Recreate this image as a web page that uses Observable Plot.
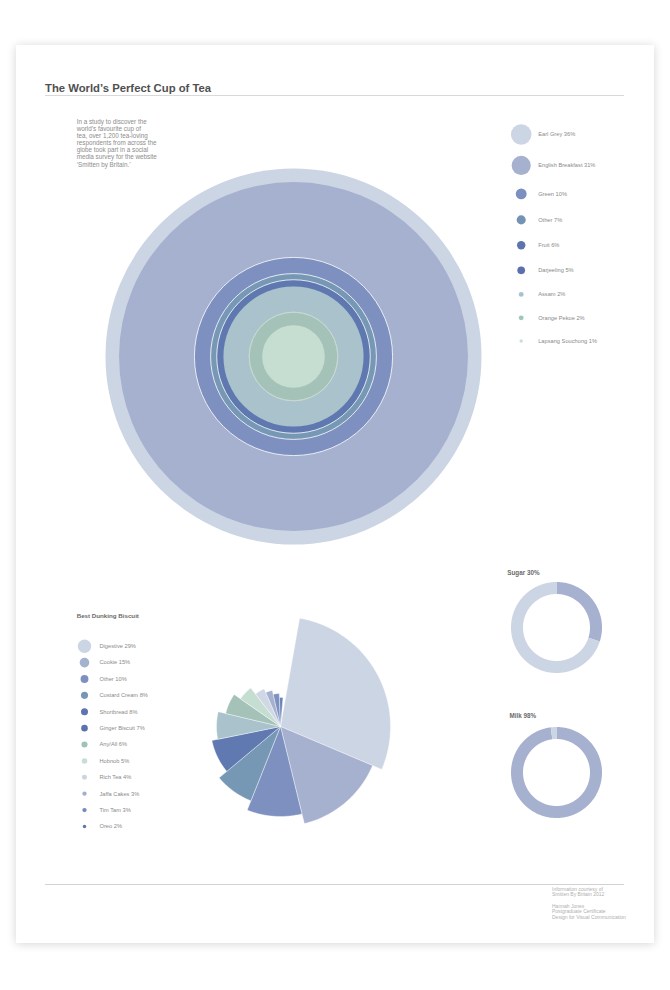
<!DOCTYPE html>
<html>
<head>
<meta charset="utf-8">
<title>The World’s Perfect Cup of Tea</title>
<script src="https://cdn.jsdelivr.net/npm/d3@7"></script>
<script src="https://cdn.jsdelivr.net/npm/@observablehq/plot@0.6"></script>
<style>
  html, body { margin: 0; padding: 0; background: #fff; }
  body { width: 670px; height: 990px; position: relative; overflow: hidden;
         font-family: "Liberation Sans", Arial, Helvetica, sans-serif; }
  #paper { position: absolute; left: 16px; top: 45px; width: 638px; height: 898px;
           background: #fff; box-shadow: 0 1px 9px rgba(0,0,0,0.17); }
  .abs { position: absolute; white-space: nowrap; }
  .plot-box { position: absolute; z-index: 1; }
  .txt { z-index: 2; }
  .rule { position: absolute; height: 1px; z-index: 2; }
</style>
</head>
<body>
<div id="paper"></div>

<div class="abs txt" style="left:45px;top:82.7px;font-weight:bold;font-size:11.3px;line-height:11.3px;color:#505050;">The World’s Perfect Cup of Tea</div>
<div class="rule" style="left:45px;top:95px;width:579px;background:#d9d9d9;"></div>

<div class="abs txt" style="left:76.7px;top:117.6px;font-size:6.3px;line-height:7.17px;color:#8c8c8c;">
In a study to discover the<br>
world’s favourite cup of<br>
tea, over 1,200 tea-loving<br>
respondents from across the<br>
globe took part in a social<br>
media survey for the website<br>
‘Smitten by Britain.’
</div>

<div class="abs txt" style="left:76.7px;top:612.6px;font-weight:bold;font-size:6.2px;line-height:6.2px;color:#6a6a6a;">Best Dunking Biscuit</div>
<div class="abs txt" id="sugarTitle" style="left:507.3px;top:569.7px;font-weight:bold;font-size:6.3px;line-height:6.3px;color:#6a6a6a;"></div>
<div class="abs txt" id="milkTitle" style="left:509.5px;top:713px;font-weight:bold;font-size:6.3px;line-height:6.3px;color:#6a6a6a;"></div>

<div class="rule" style="left:45px;top:884px;width:579px;background:#d2d2d2;"></div>
<div class="abs txt" style="left:552px;top:886.8px;font-size:5px;line-height:5.6px;color:#b0b0b0;">
Information courtesy of<br>
Smitten By Britain 2012<br>
&nbsp;<br>
Hannah Jones<br>
Postgraduate Certificate<br>
Design for Visual Communication
</div>

<div class="plot-box" id="rings" style="left:93px;top:156px;width:400px;height:400px;"></div>
<div class="plot-box" id="teaKey" style="left:500px;top:110px;width:140px;height:250px;"></div>
<div class="plot-box" id="biscuitPie" style="left:160px;top:606px;width:240px;height:240px;"></div>
<div class="plot-box" id="biscuitKey" style="left:60px;top:630px;width:120px;height:210px;"></div>
<div class="plot-box" id="sugar" style="left:505.5px;top:577px;width:100px;height:100px;"></div>
<div class="plot-box" id="milk" style="left:505.5px;top:722px;width:100px;height:100px;"></div>

<script>
// ---- Survey results (percent of respondents) ----
const teaNames = ["Earl Grey", "English Breakfast", "Green", "Other", "Fruit", "Darjeeling", "Assam", "Orange Pekoe", "Lapsang Souchong"];
const teaShares = [36, 31, 10, 7, 6, 5, 2, 2, 1];

const biscuitNames = ["Digestive", "Cookie", "Other", "Custard Cream", "Shortbread", "Ginger Biscuit", "Any/All", "Hobnob", "Rich Tea", "Jaffa Cakes", "Tim Tam", "Oreo"];
const biscuitShares = [29, 15, 10, 8, 8, 7, 6, 5, 4, 3, 3, 2];

const extraNames = ["Sugar", "Milk"];
const extraShares = [30, 98];

// ---- Palettes ----
const ringPalette = ["#ccd5e3", "#a6b0cf", "#7d90c0", "#7698b5", "#5f78b0", "#a9c2cc", "#a4c2b7", "#a4c2b7", "#c6ddd1"];
const ringOutline = ["none", "none", "#ffffff", "#ffffff", "#ffffff", "none", "#c9dbd3", "#c9dbd3", "none"];
const teaKeyPalette = ["#ccd5e3", "#a6b0cf", "#7d8fc1", "#7393b4", "#5d74b0", "#5a6fac", "#a5c3cf", "#9ec6ba", "#c7e0d8"];
const wedgePalette = ["#ccd5e3", "#a6b0cf", "#7d90c0", "#7698b5", "#6079b0", "#a9c2cc", "#a4c2b7", "#c6ddd1", "#d0d8e5", "#a6b0cf", "#7d90c0", "#6b84b5"];
const biscuitKeyPalette = ["#ccd5e3", "#a6b0cf", "#7d90c0", "#7596b5", "#5d74b0", "#5d72ac", "#9fc4b7", "#c6dfd3", "#ccd4e2", "#a3add0", "#7389c0", "#6078b0"];
const donutOn = "#a6b0cf", donutOff = "#ccd5e3";

const FONT = "'Liberation Sans', Arial, Helvetica, sans-serif";
const baseStyle = {background: "transparent", overflow: "visible", fontFamily: FONT};

const teas = teaNames.map((name, i) => ({name, share: teaShares[i], i}));
const biscuits = biscuitNames.map((name, i) => ({name, share: biscuitShares[i], i}));

// Polygon outline for a ring sector; angles in degrees clockwise from 12 o'clock.
function sector(key, r0, r1, a0, a1, fill) {
  const pts = [];
  const n = Math.max(2, Math.ceil(Math.abs(a1 - a0) / 0.75));
  const at = (r, a) => ({key, fill, x: r * Math.sin(a * Math.PI / 180), y: r * Math.cos(a * Math.PI / 180)});
  if (r0 === 0) pts.push(at(0, a0));
  for (let k = 0; k <= n; k++) pts.push(at(r1, a0 + (a1 - a0) * k / n));
  if (r0 === 0) pts.push(at(0, a1));
  else {
    for (let k = n; k >= 0; k--) pts.push(at(r0, a0 + (a1 - a0) * k / n));
    pts.push(at(r1, a0));
  }
  return pts;
}

// ---- Favourite tea: nested circles, area proportional to share ----
document.getElementById("rings").append(Plot.plot({
  width: 400, height: 400, margin: 0, style: baseStyle,
  x: {domain: [-200, 200], axis: null},
  y: {domain: [-200, 200], axis: null},
  r: {type: "sqrt", domain: [0, 36], range: [0, 188]},
  color: {type: "identity"},
  marks: [
    Plot.dot(teas, {x: () => 0, y: () => 0, r: "share", fill: d => ringPalette[d.i], stroke: null}),
    Plot.dot(teas.filter(d => ringOutline[d.i] !== "none"), {
      x: () => 0, y: () => 0, r: "share", fill: null,
      stroke: d => ringOutline[d.i], strokeWidth: 0.8
    })
  ]
}));

// ---- Tea key ----
const teaKeyR = d3.scaleSqrt([0, 36], [0, 10.3]);
const teaRows = [];
teas.forEach((d, i) => {
  teaRows.push(i === 0 ? 24 : teaRows[i - 1] + 21 + 0.5 * (teaKeyR(teas[i - 1].share) + teaKeyR(d.share)));
});
document.getElementById("teaKey").append(Plot.plot({
  width: 140, height: 250, margin: 0, style: baseStyle,
  x: {domain: [0, 140], range: [0, 140], axis: null},
  y: {domain: [0, 250], range: [0, 250], axis: null},
  r: {type: "sqrt", domain: [0, 36], range: [0, 10.3]},
  color: {type: "identity"},
  marks: [
    Plot.dot(teas, {x: () => 20.7, y: d => teaRows[d.i], r: "share", fill: d => teaKeyPalette[d.i], sort: null}),
    Plot.text(teas, {x: () => 37.7, y: d => teaRows[d.i], text: d => `${d.name} ${d.share}%`,
      textAnchor: "start", fontSize: 5.7, fill: "#8a8a8a", fontFamily: FONT})
  ]
}));

// ---- Best dunking biscuit: wedge angle by share, radius stepping down by rank ----
const turn = d3.scaleLinear([0, 100], [10, 10 + 355]);
const rankRadius = d3.scaleLinear([0, 4, 5, 8, 11], [110, 70, 64, 41, 29]);
const biscuitStart = [0, ...d3.cumsum(biscuitShares)];
const wedges = biscuits.flatMap(d =>
  sector(d.name, 0, rankRadius(d.i), turn(biscuitStart[d.i]), turn(biscuitStart[d.i + 1]), wedgePalette[d.i]));
document.getElementById("biscuitPie").append(Plot.plot({
  width: 240, height: 240, margin: 0, style: baseStyle,
  x: {domain: [-120, 120], axis: null},
  y: {domain: [-120, 120], axis: null},
  color: {type: "identity"},
  marks: [
    Plot.line(wedges, {x: "x", y: "y", z: "key", fill: "fill", stroke: "#ffffff", strokeWidth: 0.5, strokeOpacity: 0.8, curve: "linear"})
  ]
}));

// ---- Biscuit key ----
document.getElementById("biscuitKey").append(Plot.plot({
  width: 120, height: 210, margin: 0, style: baseStyle,
  x: {domain: [0, 120], range: [0, 120], axis: null},
  y: {domain: [0, 210], range: [0, 210], axis: null},
  r: {type: "sqrt", domain: [0, 29], range: [0, 6.7]},
  color: {type: "identity"},
  marks: [
    Plot.dot(biscuits, {x: () => 24, y: d => 15.7 + d.i * 16.39, r: "share", fill: d => biscuitKeyPalette[d.i], sort: null}),
    Plot.text(biscuits, {x: () => 39, y: d => 15.7 + d.i * 16.39, text: d => `${d.name} ${d.share}%`,
      textAnchor: "start", fontSize: 5.7, fill: "#8a8a8a", fontFamily: FONT})
  ]
}));

// ---- Sugar and milk donuts ----
const fullTurn = d3.scaleLinear([0, 100], [0, 360]);
function donut(share) {
  const parts = [
    ...sector("on", 33.5, 45.5, fullTurn(0), fullTurn(share), donutOn),
    ...sector("off", 33.5, 45.5, fullTurn(share), fullTurn(100), donutOff)
  ];
  return Plot.plot({
    width: 100, height: 100, margin: 0, style: baseStyle,
    x: {domain: [-50, 50], axis: null},
    y: {domain: [-50, 50], axis: null},
    color: {type: "identity"},
    marks: [Plot.line(parts, {x: "x", y: "y", z: "key", fill: "fill", stroke: null, curve: "linear"})]
  });
}
document.getElementById("sugar").append(donut(extraShares[0]));
document.getElementById("milk").append(donut(extraShares[1]));
document.getElementById("sugarTitle").textContent = `${extraNames[0]} ${extraShares[0]}%`;
document.getElementById("milkTitle").textContent = `${extraNames[1]} ${extraShares[1]}%`;
</script>
</body>
</html>
